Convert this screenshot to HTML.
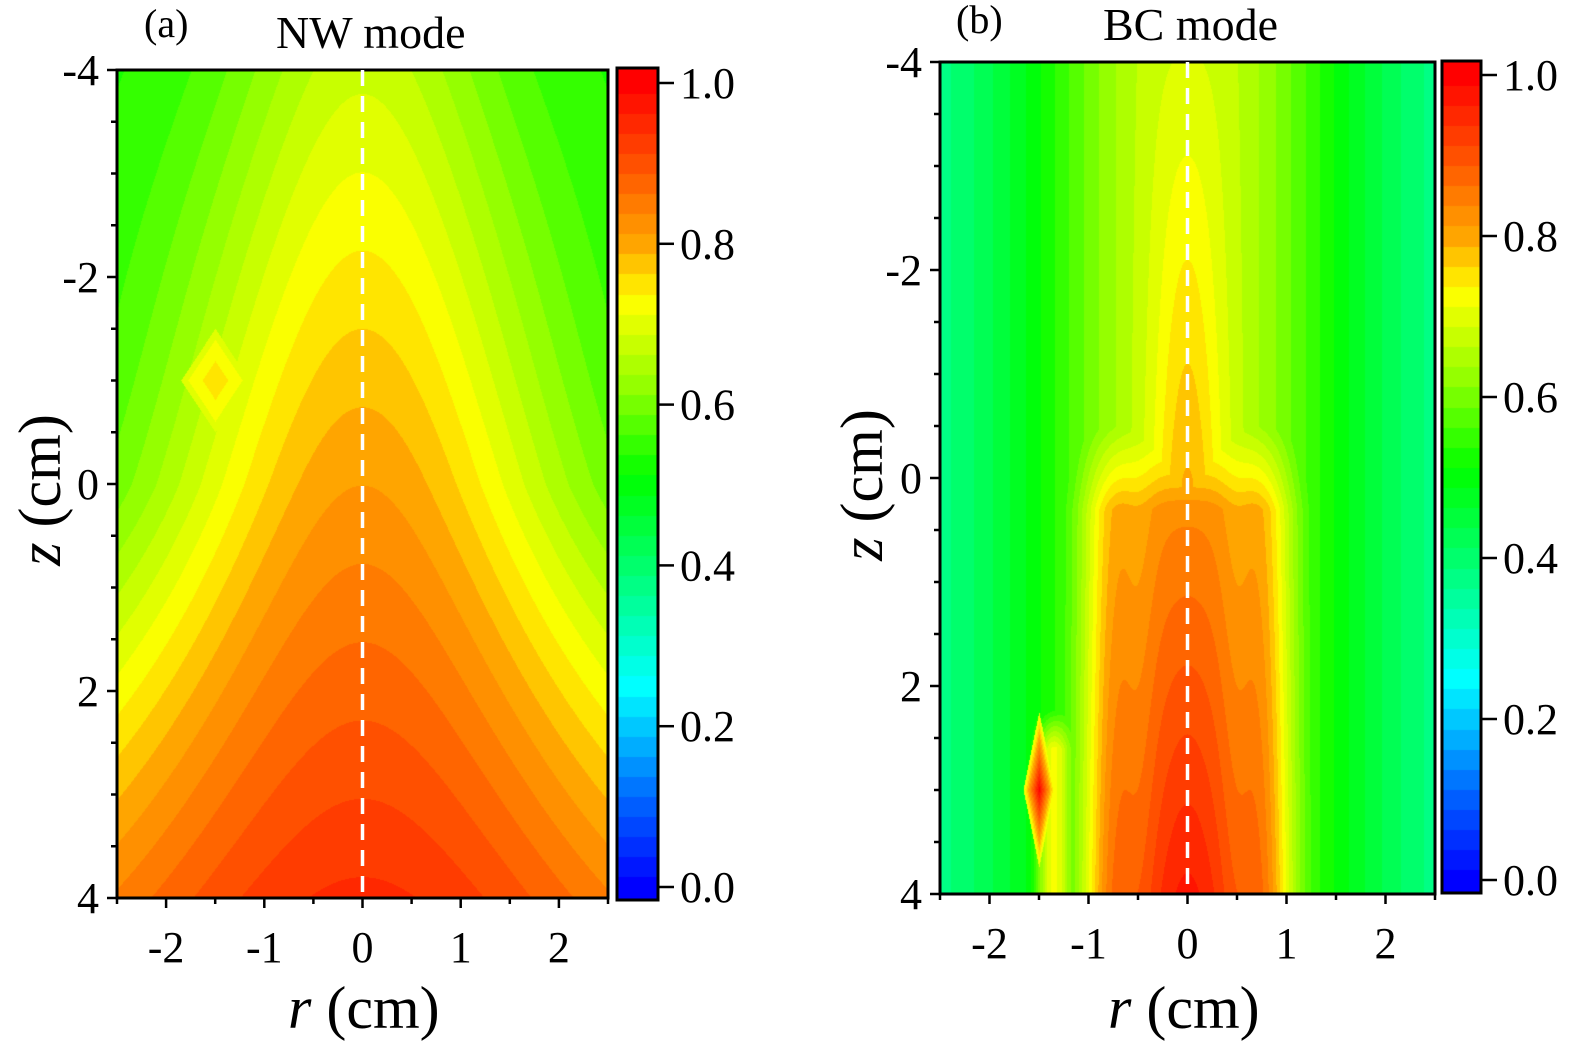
<!DOCTYPE html>
<html><head><meta charset="utf-8">
<style>
body{margin:0;background:#fff;width:1570px;height:1043px;overflow:hidden;position:relative;font-family:"Liberation Serif",serif;}
canvas{position:absolute;}
.t{position:absolute;font-size:44px;line-height:1;white-space:nowrap;}
.ax{position:absolute;font-size:60px;line-height:1;white-space:nowrap;}
</style></head><body>
<canvas id="ca" width="491" height="828" style="left:117px;top:70px"></canvas>
<canvas id="cb" width="495" height="832" style="left:940px;top:62px"></canvas>
<canvas id="ba" width="41" height="832" style="left:617px;top:68px"></canvas>
<canvas id="bb" width="39" height="832" style="left:1442px;top:61px"></canvas>
<svg width="1570" height="1043" style="position:absolute;left:0;top:0" id="sv"></svg>
<div class="t" style="left:144px;top:4px;font-size:40px">(a)</div>
<div class="t" style="left:276px;top:10px;font-size:46px">NW mode</div>
<div class="t" style="left:956px;top:0px;font-size:40px">(b)</div>
<div class="t" style="left:1103px;top:2px;font-size:46px">BC mode</div>
<div class="ax" style="left:288px;top:978px"><i>r</i> (cm)</div>
<div class="ax" style="left:1108px;top:978px"><i>r</i> (cm)</div>
<div class="ax" style="left:-40px;top:460px;width:160px;text-align:center;transform:rotate(-90deg);transform-origin:center"><i>z</i> (cm)</div>
<div class="ax" style="left:782px;top:455px;width:160px;text-align:center;transform:rotate(-90deg);transform-origin:center"><i>z</i> (cm)</div>
<script>
var stops=[[0,0,0,255],[0.12,0,112,255],[0.25,0,255,255],[0.38,0,255,128],[0.51,0,255,0],[0.62,144,255,0],[0.73,255,255,0],[0.8,255,165,0],[0.9,255,80,0],[1,255,0,0]];
function cm(v){v=Math.max(0,Math.min(1,v));v=Math.round(v*40)/40;
for(var i=1;i<stops.length;i++){if(v<=stops[i][0]){var a=stops[i-1],b=stops[i],t=(v-a[0])/(b[0]-a[0]);return [a[1]+(b[1]-a[1])*t,a[2]+(b[2]-a[2])*t,a[3]+(b[3]-a[3])*t];}}return [255,0,0];}
function fa(r,z){var c=0.68+0.033*(z+4);var e=0.53+0.2*Math.pow(Math.max(0,z/4),1.2)-0.02*Math.exp(-z*z/4);
var s=1.0+0.15*(z+4);var f=e+(c-e)*Math.exp(-r*r/(2*s*s));
var d=Math.abs(r+1.5)/0.35+Math.abs(z+1)/0.5;if(d<1)f=Math.max(f,0.76-0.06*d);return f;}
function fb(r,z){var side=0.30+0.37*Math.exp(-r*r/(2*1.69));
var t=Math.max(0,Math.min(1,(z+4)/4));var f=side+0.02+0.1*t*Math.exp(-r*r/0.12);
var m=1/(1+Math.exp((Math.abs(r)-0.95)/0.12))*Math.max(0,Math.min(1,(z+0.6)/0.9));
var bv=0.82+0.025*Math.max(z,0)+0.05*Math.max(z,0)/4*Math.exp(-r*r/0.1)-0.03*Math.exp(-Math.pow(Math.abs(r)-0.5,2)/0.03);
f=Math.max(f,side*(1-m)+bv*m);
if(z>2.2){var g=Math.exp(-Math.pow(r+1.35,2)/0.03)*Math.min(1,(z-2.2)/0.4);f=Math.max(f,side+(0.72-side)*g);}
var d=Math.abs(r+1.5)/0.16+Math.abs(z-3)/0.75;if(d<1)f=Math.max(f,1-0.3*d);return f;}
function draw(id,fn){var c=document.getElementById(id),x=c.getContext('2d'),W=c.width,H=c.height,im=x.createImageData(W,H);
for(var j=0;j<H;j++){var z=-4+8*j/(H-1);for(var i=0;i<W;i++){var r=-2.5+5*i/(W-1);var col=cm(fn(r,z)),k=(j*W+i)*4;im.data[k]=col[0];im.data[k+1]=col[1];im.data[k+2]=col[2];im.data[k+3]=255;}}x.putImageData(im,0,0);}
draw('ca',fa);draw('cb',fb);
function bar(id,y0,y1){var c=document.getElementById(id),x=c.getContext('2d'),W=c.width,H=c.height;
for(var j=0;j<H;j++){var v=1-(j-(y0))/(y1-y0);var col=cm(v);x.fillStyle='rgb('+col.map(Math.round).join(',')+')';x.fillRect(0,j,W,1);}}
bar('ba',15,819);bar('bb',14,819);
var s='';
function L(x1,y1,x2,y2,w){s+='<line x1="'+x1+'" y1="'+y1+'" x2="'+x2+'" y2="'+y2+'" stroke="#000" stroke-width="'+(w||3)+'"/>';}
function T(x,y,t,a){s+='<text x="'+x+'" y="'+y+'" font-family="Liberation Serif, serif" font-size="44" text-anchor="'+(a||'middle')+'">'+t+'</text>';}
function panel(x0,x1,y0,y1,bx0,bx1,by0,by1,b10,b00){
s+='<rect x="'+x0+'" y="'+y0+'" width="'+(x1-x0)+'" height="'+(y1-y0)+'" fill="none" stroke="#000" stroke-width="3"/>';
var xc=(x0+x1)/2;s+='<line x1="'+xc+'" y1="'+y0+'" x2="'+xc+'" y2="'+y1+'" stroke="#fff" stroke-width="3.5" stroke-dasharray="16,10"/>';
var ux=(x1-x0)/5;
for(var k=-5;k<=5;k++){var xx=xc+k*ux/2;var maj=k%2==0;L(xx,y1,xx,y1+(maj?10:6),2.5);if(maj&&Math.abs(k)<5)T(xx,y1+64,k==0?'0':(k/2<0?'-'+(-k/2):k/2));}
var uy=(y1-y0)/8;
for(var k=0;k<=16;k++){var yy=y0+k*uy/2;var maj=k%4==0;L(x0-(maj?10:6),yy,x0,yy,2.5);if(maj){var v=-4+k/2;T(x0-18,yy+15,v<0?'-'+(-v):v,'end');}}
s+='<rect x="'+bx0+'" y="'+by0+'" width="'+(bx1-bx0)+'" height="'+(by1-by0)+'" fill="none" stroke="#000" stroke-width="3"/>';
for(var k=0;k<=5;k++){var yy=b10+(b00-b10)*k/5;L(bx1,yy,bx1+16,yy,2.5);T(bx1+22,yy+15,(1-k*0.2).toFixed(1),'start');}}
panel(117,608,70,898,617,658,68,900,83,887);
panel(940,1435,62,894,1442,1481,61,893,75,880);
document.getElementById('sv').innerHTML=s;
</script>
</body></html>
